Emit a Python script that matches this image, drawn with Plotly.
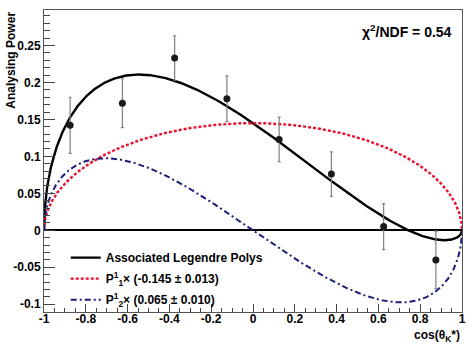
import numpy as np
import plotly.graph_objects as go

# data points (bin centres, analysing power, errors)
x_pts = [-0.875, -0.625, -0.375, -0.125, 0.125, 0.375, 0.625, 0.875]
y_pts = [0.142, 0.172, 0.233, 0.178, 0.123, 0.076, 0.005, -0.040]
y_err = [0.038, 0.033, 0.030, 0.031, 0.030, 0.030, 0.031, 0.039]

# fit coefficients
c11 = -0.145
c21 = 0.065

x_ticks = [-1, -0.8, -0.6, -0.4, -0.2, 0, 0.2, 0.4, 0.6, 0.8, 1]
x_ticktext = ["-1", "-0.8", "-0.6", "-0.4", "-0.2", "0", "0.2", "0.4", "0.6", "0.8", "1"]
y_ticks = [-0.1, -0.05, 0, 0.05, 0.1, 0.15, 0.2, 0.25]
y_ticktext = ["-0.1", "-0.05", "0", "0.05", "0.1", "0.15", "0.2", "0.25"]

t = np.linspace(0, np.pi, 500)
xc = -np.cos(t)
s = np.sqrt(np.clip(1 - xc**2, 0, None))
P11 = -s
P21 = -3 * xc * s
red = c11 * P11
blue = c21 * P21
black = red + blue

FONT = "Liberation Sans, Arial, sans-serif"

fig = go.Figure()
fig.add_trace(go.Scatter(x=xc, y=black, mode="lines", name="Associated Legendre Polys",
                         line=dict(color="black", width=2.4), legendgroup="a"))
fig.add_trace(go.Scatter(x=xc, y=red, mode="lines",
                         name="P<sup>1</sup><sub>1</sub>\u00d7 (-0.145 \u00b1 0.013)",
                         line=dict(color="#e8112d", width=2.4, dash="3px,2px"), legendgroup="b"))
fig.add_trace(go.Scatter(x=xc, y=blue, mode="lines",
                         name="P<sup>1</sup><sub>2</sub>\u00d7 (0.065 \u00b1 0.010)",
                         line=dict(color="#1c1c7a", width=2.0, dash="6px,3px,2px,3px"), legendgroup="c"))
fig.add_trace(go.Scatter(x=x_pts, y=y_pts, mode="markers", showlegend=False,
                         marker=dict(color="#1a1a1a", size=7),
                         error_y=dict(type="data", array=y_err, color="#808080", thickness=1.2, width=1.5)))

fig.update_layout(
    width=474, height=346,
    margin=dict(l=44, r=8, t=10, b=34),
    paper_bgcolor="white", plot_bgcolor="white",
    font=dict(family=FONT, size=12, color="black", weight="bold"),
    showlegend=True,
    legend=dict(x=0.052, y=0.228, xanchor="left", yanchor="top", bgcolor="rgba(0,0,0,0)",
                font=dict(size=12, family=FONT, weight="bold"), tracegroupgap=2),
    xaxis=dict(range=[-1, 1], tickmode="array", tickvals=x_ticks, ticktext=x_ticktext,
               ticks="inside", ticklen=8, tickcolor="#444", showgrid=False, zeroline=False,
               showline=True, linecolor="#555", linewidth=1, mirror=True,
               ticklabelstandoff=-4,
               tickfont=dict(size=12, family=FONT, weight="bold"),
               minor=dict(dtick=0.05, tick0=0, ticks="inside", ticklen=4, tickcolor="#444")),
    yaxis=dict(range=[-0.1105, 0.298], tickmode="array", tickvals=y_ticks, ticktext=y_ticktext,
               ticks="inside", ticklen=11, tickcolor="#444", showgrid=False,
               zeroline=True, zerolinecolor="black", zerolinewidth=2,
               showline=True, linecolor="#555", linewidth=1, mirror=True,
               tickfont=dict(size=12, family=FONT, weight="bold"),
               minor=dict(dtick=0.01, tick0=0, ticks="inside", ticklen=6, tickcolor="#444")),
    annotations=[
        dict(text="Analysing Power", textangle=-90, xref="paper", yref="paper",
             x=-0.081, y=1.0, xanchor="center", yanchor="top", showarrow=False,
             font=dict(size=12, family=FONT, weight="bold")),
        dict(text="cos(\u03b8<sub>K</sub>*)", xref="paper", yref="paper",
             x=1.0, y=-0.046, xanchor="right", yanchor="top", showarrow=False,
             font=dict(size=12, family=FONT, weight="bold")),
        dict(text="\u03c7<sup>2</sup>/NDF = 0.54", xref="paper", yref="paper",
             x=0.981, y=0.93, xanchor="right", yanchor="middle", showarrow=False,
             font=dict(size=14, family=FONT, weight="bold")),
    ],
)

fig.write_html("out.html")
